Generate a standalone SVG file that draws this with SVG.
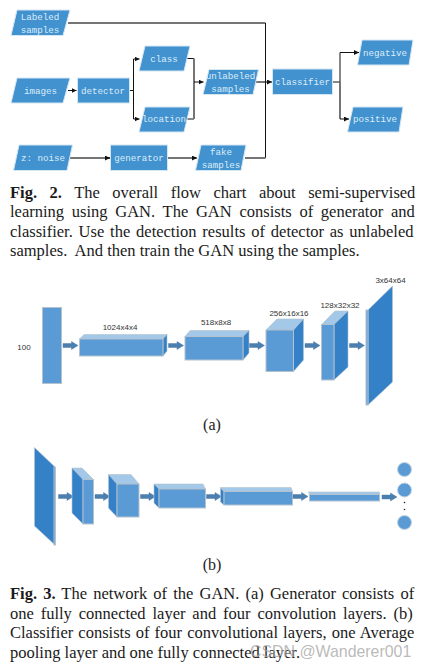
<svg xmlns="http://www.w3.org/2000/svg" width="427" height="667" viewBox="0 0 427 667">
<style>
.n{fill:#4292cf;stroke:#d5e6f3;stroke-width:1}
.t{font-family:"Liberation Mono","DejaVu Sans Mono",monospace;font-size:9.2px;fill:#dcedf9;text-anchor:middle}
.g{fill:none;stroke:#757575;stroke-width:2}
.k{fill:none;stroke:#111;stroke-width:1}
.c{font-family:"Liberation Serif",serif;font-size:16.5px;fill:#1a1a1a;white-space:pre}
.b{font-weight:bold}
.l{font-family:"Liberation Sans",sans-serif;font-size:8px;fill:#333;text-anchor:middle}
.f{fill:#5b9bd5;stroke:#b4c2cf;stroke-width:1}
.d{fill:#3581c8;stroke:#b4c2cf;stroke-width:.6}
.u{fill:#a3c8e8;stroke:#b4c2cf;stroke-width:.6}
.a{fill:#4a7fb0;stroke:#41719c;stroke-width:.4}
.p{font-family:"Liberation Serif",serif;font-size:16px;fill:#222;text-anchor:middle}
.o{fill:#5b9bd5;stroke:#c5d5e2;stroke-width:1}
</style>
<defs>
<marker id="m" markerWidth="6" markerHeight="6" refX="5" refY="2.5" orient="auto" markerUnits="userSpaceOnUse"><path d="M0 0L5 2.5L0 5Z" fill="#111"/></marker>
<path id="ar" d="M0-2H8.500V-4L15 0L8.500 4V2H0Z"/>
</defs>
<g id="connectors">
<path class="g" d="M68 23H265.500"/>
<path class="k" d="M265.500 23V158"/>
<path class="g" d="M245 158H265.500"/>
<path class="k" d="M68 90.500H76.500" marker-end="url(#m)"/>
<path class="k" d="M129 90.500H133.500V59H139.500" marker-end="url(#m)"/>
<path class="k" d="M133.500 90.500V119H139.500" marker-end="url(#m)"/>
<path class="k" d="M187 58.500H194"/>
<path class="k" d="M187 119H194"/>
<path class="g" d="M194 58.500V119"/>
<path class="k" d="M194 82H203.500" stroke-width="1.500" marker-end="url(#m)"/>
<path class="g" d="M70 158H110"/>
<path class="k" d="M106 158H110" marker-end="url(#m)"/>
<path class="g" d="M167 158H196"/>
<path class="k" d="M192 158H197" marker-end="url(#m)"/>
<path class="g" d="M255 82H265"/>
<path class="k" d="M265 82H272" marker-end="url(#m)"/>
<path class="k" d="M332 82H340"/>
<path class="g" d="M340 82V119"/>
<path class="k" d="M340 82V52.500H359" marker-end="url(#m)"/>
<path class="k" d="M340 119H349" marker-end="url(#m)"/>
</g>
<g id="labeled"><path class="n" d="M17 10H70L63 35.500H11Z"/><text class="t" x="40" y="20">Labeled</text><text class="t" x="40" y="33">samples</text></g>
<g id="images"><path class="n" d="M17 78H70L63 103H11Z"/><text class="t" x="40.500" y="94">images</text></g>
<g id="detector"><rect class="n" x="77.500" y="78" width="52" height="25"/><text class="t" x="103" y="94">detector</text></g>
<g id="class"><path class="n" d="M145 46H190L184 71H139Z"/><text class="t" x="164" y="62">class</text></g>
<g id="location"><path class="n" d="M145 107H190L184 132H139Z"/><text class="t" x="164" y="122">location</text></g>
<g id="unlabeled"><path class="n" d="M209 69.500H258.500L253 94.500H203Z"/><text class="t" x="230.500" y="79">unlabeled</text><text class="t" x="230.500" y="92">samples</text></g>
<g id="noise"><path class="n" d="M19 145H72.500L67 170.500H13.500Z"/><text class="t" x="43" y="161">z: noise</text></g>
<g id="generator"><rect class="n" x="110.500" y="145" width="57" height="25.500"/><text class="t" x="139" y="161">generator</text></g>
<g id="fake"><path class="n" d="M201 145H246L241 170.500H195.500Z"/><text class="t" x="221" y="155">fake</text><text class="t" x="221" y="168">samples</text></g>
<g id="classifier"><rect class="n" x="272.500" y="69" width="60" height="25.500"/><text class="t" x="302.500" y="85">classifier</text></g>
<g id="negative"><path class="n" d="M362 40H413L409 65H357.500Z"/><text class="t" x="385" y="56">negative</text></g>
<g id="positive"><path class="n" d="M353 107H403L399 132H347.500Z"/><text class="t" x="375" y="122">positive</text></g>

<text class="c" y="198" x="10" word-spacing="8.400"><tspan class="b">Fig. 2.</tspan> The overall flow chart about semi-supervised</text>
<text class="c" y="217" x="10" word-spacing="3.600">learning using GAN. The GAN consists of generator and</text>
<text class="c" y="237" x="10" word-spacing="1.700">classifier. Use the detection results of detector as unlabeled</text>
<text class="c" y="256" x="10">samples.  And then train the GAN using the samples.</text>

<g id="gen-100"><rect class="f" x="42.500" y="307.500" width="19" height="76"/><text class="l" x="24" y="350">100</text></g>
<use href="#ar" class="a" x="63" y="345.500"/>
<g id="gen-1024"><path class="u" d="M79.500 339L84 334.500H167L163 339Z"/><path class="d" d="M163 339L167 334.500V351L163 356Z"/><rect class="f" x="79.500" y="339" width="83.500" height="17"/><text class="l" x="120" y="330">1024x4x4</text></g>
<use href="#ar" class="a" x="168.500" y="345.500"/>
<g id="gen-518"><path class="u" d="M185 336.500L190 330.500H249L243 336.500Z"/><path class="d" d="M243 336.500L249 330.500V353L243 360Z"/><rect class="f" x="185" y="336.500" width="58" height="23.500"/><text class="l" x="216" y="325">518x8x8</text></g>
<use href="#ar" class="a" x="249.500" y="345.500"/>
<g id="gen-256"><path class="u" d="M266 330L277 319H303.500L293.500 330Z"/><path class="d" d="M293.500 330L303.500 319V360L293.500 371.500Z"/><rect class="f" x="266" y="330" width="27.500" height="41.500"/><text class="l" x="289" y="316">256x16x16</text></g>
<use href="#ar" class="a" x="305" y="345.500"/>
<g id="gen-128"><path class="u" d="M321.500 324.500L335 311H348L334 324.500Z"/><path class="d" d="M334 324.500L348 311V367L334 380Z"/><rect class="f" x="321.500" y="324.500" width="12.500" height="55.500"/><text class="l" x="340" y="308">128x32x32</text></g>
<use href="#ar" class="a" x="349.500" y="345.500"/>
<g id="gen-3"><path class="d" d="M368 310L392.500 286V382L368 405Z" stroke-width="1"/><rect class="f" x="366" y="310" width="2" height="95"/><text class="l" x="390.500" y="283">3x64x64</text></g>
<text class="p" x="212" y="430">(a)</text>

<g id="dis-3"><path class="d" d="M34.500 447.500L55 467V545L34.500 526Z" stroke-width="1"/><rect class="f" x="54" y="467" width="1.500" height="78"/></g>
<use href="#ar" class="a" x="58.500" y="496.500"/>
<g id="dis-128"><path class="u" d="M72 468H82L93.500 479.500H83Z"/><path class="d" d="M72 468L83 479.500V524L72 513Z"/><rect class="f" x="83" y="479.500" width="10.500" height="44.500"/></g>
<use href="#ar" class="a" x="95" y="496.500"/>
<g id="dis-256"><path class="u" d="M108.500 474.500H131L139 484H117Z"/><path class="d" d="M108.500 474.500L117 484V517L108.500 508Z"/><rect class="f" x="117" y="484" width="22" height="33"/></g>
<use href="#ar" class="a" x="140.500" y="496.500"/>
<g id="dis-518"><path class="u" d="M154 484H203L205.500 489H159Z"/><path class="d" d="M154 484L159 489V508L154 503Z"/><rect class="f" x="159" y="489" width="46.500" height="19"/></g>
<use href="#ar" class="a" x="206.500" y="496.500"/>
<g id="dis-1024"><path class="u" d="M220 487.500H291L292.500 491.500H224Z"/><path class="d" d="M220.500 488L224 491.500V505L220.500 502Z"/><rect class="f" x="224" y="491.500" width="68.500" height="13.500"/></g>
<use href="#ar" class="a" x="293" y="496.500"/>
<g id="dis-fc"><path class="u" d="M308 492H379.500V494.500H310Z"/><rect class="f" x="309.500" y="494.500" width="70" height="6.500"/></g>
<use href="#ar" class="a" x="382" y="497"/>
<g id="dis-out"><circle class="o" cx="404.500" cy="469.500" r="7"/><circle class="o" cx="404.500" cy="490" r="7"/><circle cx="404.500" cy="502.500" r=".8" fill="#222"/><circle cx="404.500" cy="509.500" r=".8" fill="#222"/><circle class="o" cx="404.500" cy="522.500" r="7"/></g>
<text class="p" x="212" y="570">(b)</text>

<text class="c" y="599" x="10" word-spacing="2"><tspan class="b">Fig. 3.</tspan> The network of the GAN. (a) Generator consists of</text>
<text class="c" y="619" x="10" word-spacing="2.750">one fully connected layer and four convolution layers. (b)</text>
<text class="c" y="638" x="10" word-spacing="1">Classifier consists of four convolutional layers, one Average</text>
<text class="c" y="658" x="10">pooling layer and one fully connected layer.</text>
<text x="250" y="657" font-family="Liberation Sans,sans-serif" font-size="15.900px" fill="#a8a8a8" fill-opacity=".8">CSDN @Wanderer001</text>
</svg>
